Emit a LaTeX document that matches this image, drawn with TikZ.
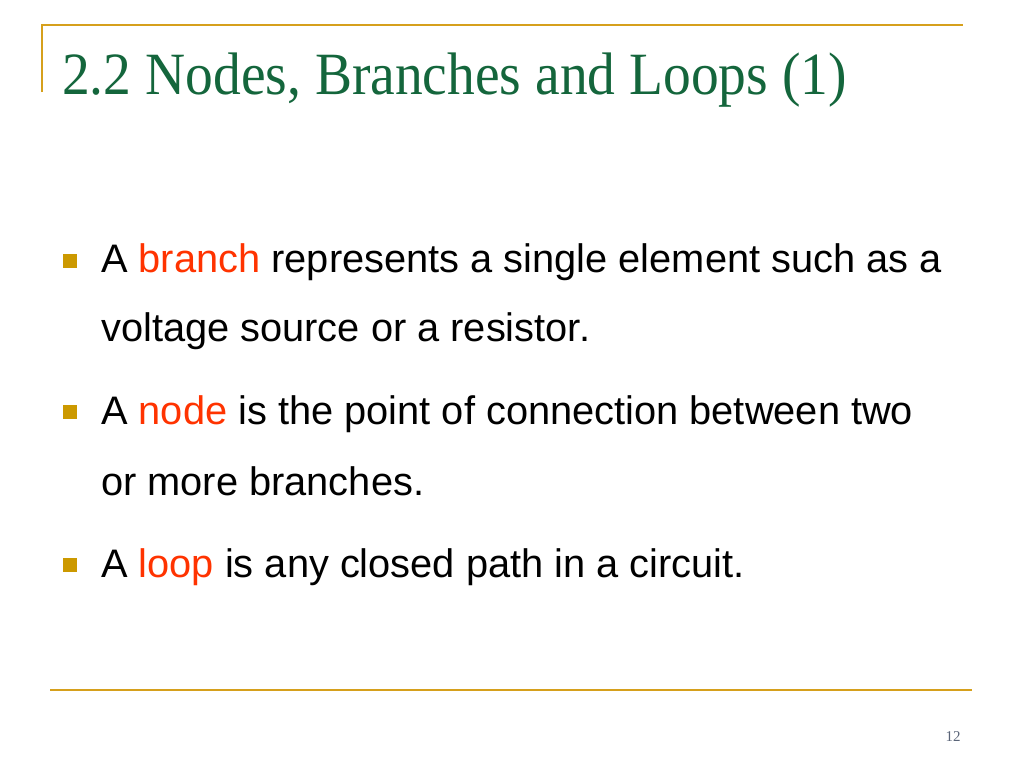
\documentclass[tikz,border=0pt]{standalone}
\usepackage{fontspec}
\setmainfont{Liberation Serif}
\setsansfont{Liberation Sans}
\usepackage{tikz}
\usetikzlibrary{positioning}
\definecolor{rulegold}{RGB}{214,160,28}
\definecolor{bulletgold}{RGB}{204,153,0}
\definecolor{titlegreen}{RGB}{20,102,60}
\definecolor{keyred}{RGB}{255,51,0}
\definecolor{pagegray}{RGB}{90,100,120}
\newcommand{\key}[1]{\textcolor{keyred}{#1}}

\begin{document}
\begin{tikzpicture}[x=1pt, y=-1pt,
		rule/.style={rulegold, line width=2pt},
		bullet/.style={fill=bulletgold, minimum size=14pt, inner sep=0pt},
		body/.style={anchor=base west, inner sep=0pt, font=\sffamily\fontsize{39.8}{42}\selectfont}]
				\useasboundingbox (0,0) rectangle (1024,768);
				\draw[rule] (42,92)--(42,25)--(963,25);
				\draw[rule] (50,690)--(972,690);
				\node[anchor=base west, inner sep=0pt, text=titlegreen, font=\fontsize{60}{64}\selectfont] (title) at (62,94) {\scalebox{0.925}[1]{2.2 Nodes, Branches and Loops (1)}};
				\node[body] (b1) at (101,272) {A \key{branch} represents a single element such as a};
				\node[body] (b1b) at (101,341) {voltage source or a resistor.};
				\node[body] (b2) at (101,424) {A \key{node} is the point of connection between two};
				\node[body] (b2b) at (101,495) {or more branches.};
				\node[body] (b3) at (101,577) {A \key{loop} is any closed path in a circuit.};
				\foreach \y/\n in {261/1,412/2,565/3}
					\node[bullet] (sq\n) at (70,\y) {};
				\node[anchor=base, inner sep=0pt, text=pagegray, font=\fontsize{15}{16}\selectfont] (page) at (953,741) {12};
			\end{tikzpicture}
\end{document}
